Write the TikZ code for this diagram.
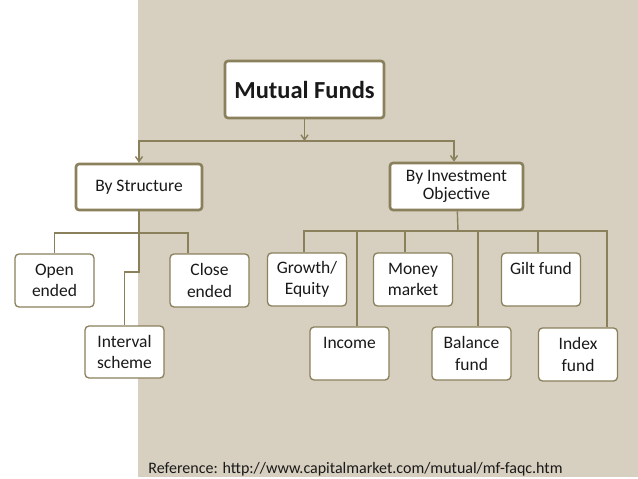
\documentclass[tikz,border=0pt]{standalone}
\usepackage{fontspec}
\setmainfont{Carlito}
\usepackage{tikz}
\usetikzlibrary{arrows.meta, positioning, calc}
\definecolor{mfBeige}{RGB}{215,208,192}
\definecolor{mfOlive}{RGB}{138,128,92}
\definecolor{mfText}{RGB}{25,25,25}

\begin{document}
\begin{tikzpicture}[x=1pt, y=-1pt,
    headbox/.style={rectangle, draw=mfOlive, line width=2.6pt, fill=white,
        rounded corners=3pt, inner sep=0pt, align=center, text=mfText,
        font=\fontsize{17.5}{18.5}\selectfont},
    leafbox/.style={rectangle, draw=mfOlive, line width=1.3pt, fill=white,
        rounded corners=4pt, inner sep=0pt, minimum width=79pt,
        minimum height=53pt, align=center, text=mfText,
        font=\fontsize{17.5}{21.5}\selectfont},
    link/.style={draw=mfOlive, line width=1.4pt},
    arrow/.style={link, -{Straight Barb[length=5pt, width=7pt]}}
]
\useasboundingbox (0,0) rectangle (638,479);
\fill[white] (0,0) rectangle (638,479);
\fill[mfBeige] (138,0) rectangle (638,477);

\node[headbox, minimum width=159pt, minimum height=57pt,
    font=\fontsize{24.5}{26}\selectfont\bfseries] (mf) at (304.5,89.5) {Mutual Funds};
\node[headbox, minimum width=126pt, minimum height=46pt] (struct) at (139,187)
    {By Structure};
\node[headbox, minimum width=133pt, minimum height=47pt] (invest) at (456.5,186.5)
    {By Investment\\Objective};

\node[leafbox] (open) at (54.5,280.5) {Open\\ended};
\node[leafbox] (close) at (209.5,280.5) {Close\\ended};
\node[leafbox, minimum height=52pt] (interval) at (124.5,352) {Interval\\scheme};

\node[leafbox] (growth) at (307,279.5) {Growth/\\Equity};
\node[leafbox] (money) at (413,279.5) {Money\\market};
\node[leafbox] (gilt) at (541,279.5) {Gilt fund\\\mbox{}};
\node[leafbox] (income) at (349.5,353.5) {Income\\\mbox{}};
\node[leafbox] (balance) at (471.5,353.5) {Balance\\fund};
\node[leafbox] (index) at (578,354.5) {Index\\fund};

\node[font=\fontsize{16}{18}\selectfont, text=mfText] (ref) at (355.5,469)
    {Reference: http://www.capitalmarket.com/mutual/mf-faqc.htm};

% top level
\coordinate (split) at (304.5,141);
\draw[arrow] (mf) -- (split);
\draw[arrow] (split) -| (struct);
\draw[arrow] (split) -| ([xshift=-2.5]invest.north);

% by structure
\coordinate (sjoin) at (139,233);
\draw[link] (struct) -- (sjoin);
\draw[link] (sjoin) -| (open);
\draw[link] (sjoin) -| ([xshift=-21.5]close.north);
\draw[link] (sjoin) -- ++(0,39) -| (interval);

% by investment objective
\coordinate (ijoin) at (458,231);
\draw[link] (invest) -- (ijoin);
\foreach \leaf/\dx in {growth/-3, money/-8, gilt/-3, income/7.5, balance/6.5, index/29}
    \draw[link] (ijoin) -| ([xshift=\dx]\leaf.north);
\end{tikzpicture}
\end{document}
